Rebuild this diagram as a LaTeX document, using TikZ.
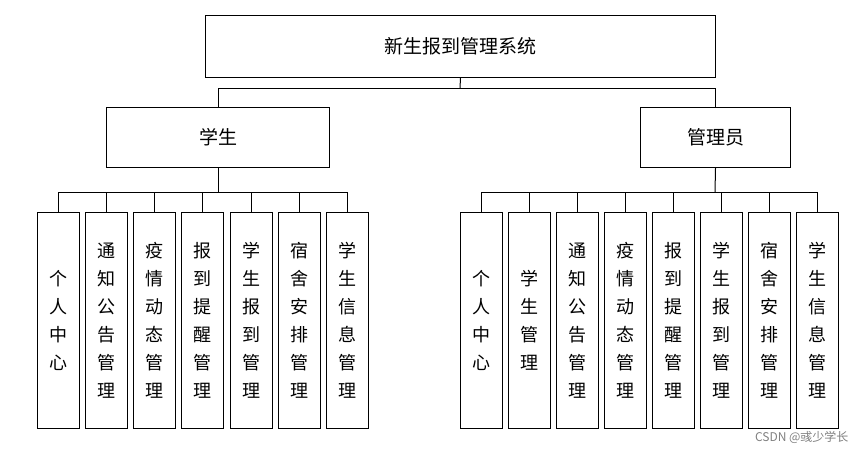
\documentclass[tikz,border=0pt]{standalone}
\usepackage{fontspec}
\setmainfont{Noto Sans CJK SC}
\begin{document}
\begin{tikzpicture}[x=1pt,y=-1pt,
  box/.style={draw,line width=1pt,inner sep=0pt},
  leaf/.style={box,minimum width=42pt,minimum height=216pt,anchor=north west,align=center,font=\fontsize{18}{28}\selectfont},
  conn/.style={line width=1pt}]
\useasboundingbox (0,0) rectangle (864,453);
\node[box,minimum width=510pt,minimum height=62pt,anchor=north west,font=\fontsize{19}{22}\selectfont] (root) at (205,15) {新生报到管理系统};
\node[box,minimum width=223pt,minimum height=60pt,anchor=north west,font=\fontsize{19}{22}\selectfont] (stu) at (106,107) {学生};
\node[box,minimum width=150pt,minimum height=60pt,anchor=north west,font=\fontsize{19}{22}\selectfont] (adm) at (640,107) {管理员};
\coordinate (rb) at (460,88);
\draw[conn] (root.south) -- (rb);
\draw[conn] (stu.north) -- (stu.north |- rb) -- (adm.north |- rb) -- (adm.north);
% student leaves
\foreach \i/\t [count=\k] in {37/个\\人\\中\\心, 85/通\\知\\公\\告\\管\\理, 133/疫\\情\\动\\态\\管\\理, 181/报\\到\\提\\醒\\管\\理, 230/学\\生\\报\\到\\管\\理, 278/宿\\舍\\安\\排\\管\\理, 326/学\\生\\信\\息\\管\\理}
  {\node[leaf] (s\k) at (\i,212) {\t};
   \draw[conn] (s\k.north) -- ++(0,-20);}
\coordinate (sb) at (218,192);
\draw[conn] (stu.south) -- (sb);
\draw[conn] (s1.north |- sb) -- (s7.north |- sb);
% admin leaves
\foreach \i/\t [count=\k] in {460/个\\人\\中\\心, 508/学\\生\\管\\理, 556/通\\知\\公\\告\\管\\理, 604/疫\\情\\动\\态\\管\\理, 652/报\\到\\提\\醒\\管\\理, 700/学\\生\\报\\到\\管\\理, 748/宿\\舍\\安\\排\\管\\理, 796/学\\生\\信\\息\\管\\理}
  {\node[leaf] (a\k) at (\i,212) {\t};
   \draw[conn] (a\k.north) -- ++(0,-20);}
\coordinate (ab) at (715,192);
\draw[conn] (adm.south) -- (ab);
\draw[conn] (a1.north |- ab) -- (a8.north |- ab);
\node[text=gray,font=\fontsize{12}{13}\selectfont,anchor=east] (wm) at (852,437) {CSDN @彧少学长};
\end{tikzpicture}
\end{document}
